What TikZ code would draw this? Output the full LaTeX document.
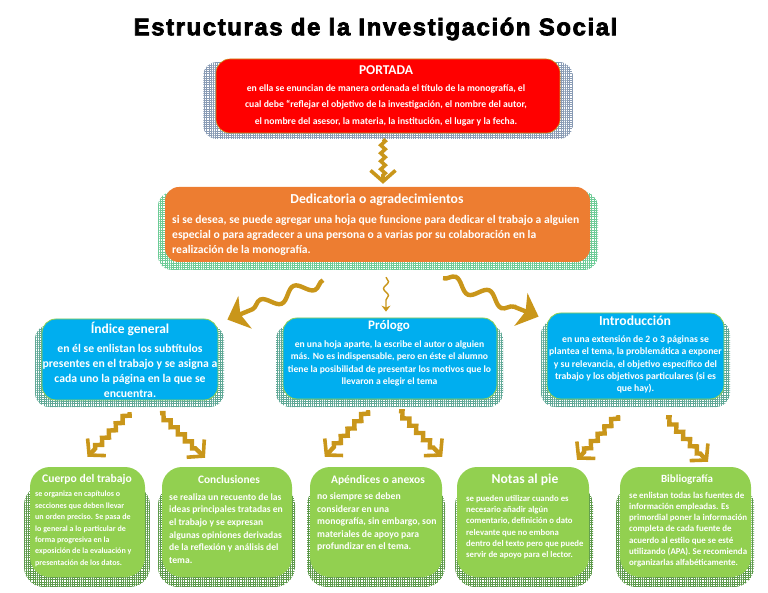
\documentclass[tikz,border=0pt]{standalone}
\usepackage{fontspec}
\setmainfont{Carlito}
\newfontfamily\titlefont[LetterSpace=6.5,BoldFeatures={FakeBold=3}]{Liberation Sans}
\usetikzlibrary{patterns,arrows.meta,decorations.pathmorphing}
\pgfdeclarepatternformonly{finegrid}{\pgfqpoint{-1pt}{-1pt}}{\pgfqpoint{1.2pt}{1.2pt}}{\pgfqpoint{2.2pt}{2.2pt}}{
  \pgfsetlinewidth{0.65pt}
  \pgfpathmoveto{\pgfqpoint{0pt}{-1pt}}\pgfpathlineto{\pgfqpoint{0pt}{1.2pt}}
  \pgfpathmoveto{\pgfqpoint{-1pt}{0pt}}\pgfpathlineto{\pgfqpoint{1.2pt}{0pt}}
  \pgfusepath{stroke}}
\definecolor{oro}{HTML}{C9961A}
\definecolor{naranja}{HTML}{ED7D31}
\definecolor{azul}{HTML}{00AEEF}
\definecolor{verde}{HTML}{92D050}
\definecolor{rojo}{HTML}{FF0000}
\definecolor{gridazul}{HTML}{8A9CB5}
\definecolor{gridclaro}{HTML}{6CCB96}
\definecolor{gridteal}{HTML}{5FA896}
\definecolor{gridoscuro}{HTML}{5E9A4C}
\tikzset{
  caja/.style={rectangle,rounded corners=14pt,inner sep=0pt},
  cajabaja/.style={caja,rounded corners=20pt,fill=verde},
  fondo/.style={caja,pattern=finegrid},
  fondobajo/.style={fondo,rounded corners=20pt,pattern color=gridoscuro},
  titulo/.style={text=white,font=\bfseries\fontsize{#1}{#1}\selectfont,inner sep=0pt},
  cuerpo/.style 2 args={text=white,font=\bfseries\fontsize{#1}{#2}\selectfont,inner sep=0pt},
  quebrada/.style={draw=oro,line width=4.4pt,decorate,
    decoration={zigzag,segment length=10pt,amplitude=2.5pt,post=lineto,post length=9pt},
    -{Straight Barb[length=11pt,width=25pt,line width=3.6pt]}},
  ondagrande/.style={draw=oro,line width=4.4pt,decorate,
    decoration={snake,segment length=36pt,amplitude=6pt,post=lineto,post length=20pt},
    -{Stealth[length=19pt,width=35pt,inset=5pt]}},
  ondachica/.style={draw=oro,line width=1.4pt,decorate,
    decoration={snake,segment length=14pt,amplitude=2.5pt,post=lineto,post length=6pt},
    -{Stealth[length=6pt,width=9pt]}}
}
\begin{document}
\begin{tikzpicture}[x=1pt,y=-1pt]
  \useasboundingbox (0,0) rectangle (768,593);

  \node[text=black,font=\titlefont\bfseries\fontsize{24}{24}\selectfont,inner sep=0pt] (principal) at (375.5,29) {Estructuras de la Investigación Social};

  \node[fondo,pattern color=gridazul,minimum width=370pt,minimum height=77pt] (portadafondo) at (388,100.5) {};
  \node[caja,fill=rojo,draw=oro,line width=0.6pt,minimum width=344pt,minimum height=74pt] (portada) at (388,96) {};
  \node[titulo=13.5] (portadatit) at (386,70) {PORTADA};
  \node[cuerpo={9.7}{16.5},align=center] (portadatxt) at (386,105) {en ella se enuncian de manera ordenada el título de la monografía, el\\
    cual debe ``reflejar el objetivo de la investigación, el nombre del autor,\\
    el nombre del  asesor, la materia, la institución, el lugar y la fecha.};

  \node[fondo,pattern color=gridclaro,minimum width=440pt,minimum height=78pt] (dedicatoriafondo) at (378,231) {};
  \node[caja,fill=naranja,minimum width=425pt,minimum height=75pt] (dedicatoria) at (377.5,224.5) {};
  \node[titulo=13.7] (dedicatoriatit) at (377,200) {Dedicatoria o agradecimientos};
  \node[cuerpo={11.6}{15},align=left,anchor=west] (dedicatoriatxt) at (172,235) {si se desea, se puede agregar una hoja que funcione para dedicar el trabajo a alguien\\
    especial o para agradecer a una persona o a varias por su colaboración en la\\
    realización de la monografía.};

  \node[fondo,pattern color=gridteal,minimum width=189pt,minimum height=82pt] (indicefondo) at (129.5,366) {};
  \node[caja,fill=azul,draw=verde,line width=0.8pt,minimum width=176pt,minimum height=81pt] (indice) at (130,359.5) {};
  \node[titulo=13.5] (indicetit) at (130,328.5) {Índice general};
  \node[cuerpo={11.7}{15},align=center] (indicetxt) at (130,370.5) {en él se enlistan los subtítulos\\
    presentes en el trabajo y se asigna a\\
    cada uno la página en la que se\\
    encuentra.};

  \node[fondo,pattern color=gridteal,minimum width=227pt,minimum height=82pt] (prologofondo) at (389.5,366) {};
  \node[caja,fill=azul,draw=verde,line width=0.8pt,minimum width=214pt,minimum height=81pt] (prologo) at (390,358.5) {};
  \node[titulo=13] (prologotit) at (389,326) {Prólogo};
  \node[cuerpo={9.6}{12.3},align=center] (prologotxt) at (389.5,363.5) {en una hoja aparte, la escribe el autor o alguien\\
    más. No es indispensable, pero en éste el alumno\\
    tiene la posibilidad de presentar los motivos que lo\\
    llevaron a elegir el tema};

  \node[fondo,pattern color=gridteal,minimum width=189pt,minimum height=87pt] (introduccionfondo) at (635.5,363.5) {};
  \node[caja,fill=azul,draw=verde,line width=0.8pt,minimum width=177pt,minimum height=86pt] (introduccion) at (635.5,356) {};
  \node[titulo=13.7] (introducciontit) at (635,321) {Introducción};
  \node[cuerpo={9.7}{12.2},align=center] (introducciontxt) at (635.5,364.5) {en una extensión de 2 o 3 páginas se\\
    plantea el tema, la problemática a exponer\\
    y su relevancia, el objetivo específico del\\
    trabajo y los objetivos particulares (si es\\
    que hay).};

  \node[fondobajo,minimum width=126pt,minimum height=102pt] (trabajofondo) at (87,536) {};
  \node[cajabaja,minimum width=115pt,minimum height=110pt] (trabajo) at (87.5,522) {};
  \node[titulo=11.6] (trabajotit) at (87,479) {Cuerpo del trabajo};
  \node[cuerpo={8}{11.4},align=left,anchor=west] (trabajotxt) at (35,529) {se organiza en capítulos o\\
    secciones que deben llevar\\
    un orden preciso. Se pasa de\\
    lo general a lo particular de\\
    forma progresiva en la\\
    exposición de la evaluación y\\
    presentación de los datos.};

  \node[fondobajo,minimum width=137pt,minimum height=102pt] (conclusionesfondo) at (226.5,536) {};
  \node[cajabaja,minimum width=130pt,minimum height=110pt] (conclusiones) at (227,522) {};
  \node[titulo=11.4] (conclusionestit) at (229,480) {Conclusiones};
  \node[cuerpo={9.6}{12.6},align=left,anchor=west] (conclusionestxt) at (169,528.5) {se realiza un recuento de las\\
    ideas principales tratadas en\\
    el trabajo y se expresan\\
    algunas opiniones  derivadas\\
    de la reflexión y análisis del\\
    tema.};

  \node[fondobajo,minimum width=138pt,minimum height=102pt] (apendicesfondo) at (376,536) {};
  \node[cajabaja,minimum width=132pt,minimum height=110pt] (apendices) at (376,522) {};
  \node[titulo=11.5] (apendicestit) at (378,480) {Apéndices o anexos};
  \node[cuerpo={9.7}{12.5},align=left,anchor=west] (apendicestxt) at (317,522) {no siempre se deben\\
    considerar  en una\\
    monografía,  sin embargo, son\\
    materiales de apoyo para\\
    profundizar  en el tema.};

  \node[fondobajo,minimum width=138pt,minimum height=102pt] (notasfondo) at (524,536) {};
  \node[cajabaja,minimum width=132pt,minimum height=110pt] (notas) at (523,522) {};
  \node[titulo=13.6] (notastit) at (525,480) {Notas al pie};
  \node[cuerpo={8.7}{11.3},align=left,anchor=west] (notastxt) at (466,527) {se pueden utilizar cuando es\\
    necesario añadir algún\\
    comentario, definición o dato\\
    relevante que no embona\\
    dentro del texto pero que puede\\
    servir de apoyo para el lector.};

  \node[fondobajo,minimum width=138pt,minimum height=102pt] (bibliografiafondo) at (685,536) {};
  \node[cajabaja,minimum width=131pt,minimum height=110pt] (bibliografia) at (685.5,522) {};
  \node[titulo=11] (bibliografiatit) at (687,480) {Bibliografía};
  \node[cuerpo={8.9}{11.2},align=left,anchor=west] (bibliografiatxt) at (629,529.5) {se enlistan todas las fuentes de\\
    información empleadas. Es\\
    primordial poner la información\\
    completa de cada fuente de\\
    acuerdo al estilo que se esté\\
    utilizando (APA).  Se recomienda\\
    organizarlas alfabéticamente.};

  \draw[quebrada,line width=3.6pt,decoration={segment length=8pt,amplitude=2.2pt,post length=7pt}] ([shift={(-5,0)}]portadafondo.south) -- ([shift={(5.5,-3)}]dedicatoria.north);
  \draw[ondagrande] ([shift={(-55,10)}]dedicatoriafondo.south) -- ([shift={(9,1)}]indice.north east);
  \draw[ondachica] ([shift={(8,7)}]dedicatoriafondo.south) -- ([shift={(-4,-6)}]prologo.north);
  \draw[ondagrande] ([shift={(65,8)}]dedicatoriafondo.south) -- ([shift={(-8,4)}]introduccion.north west);

  \draw[quebrada] ([shift={(0,5)}]indicefondo.south) -- ([shift={(0,-10)}]trabajo.north);
  \draw[quebrada] ([shift={(30.5,6)}]indicefondo.south) -- ([shift={(-22,-9)}]conclusiones.north);
  \draw[quebrada] ([shift={(-21.5,3)}]prologofondo.south) -- ([shift={(15,-10)}]apendices.north west);
  \draw[quebrada] ([shift={(9.5,4)}]prologofondo.south) -- ([shift={(0,-10)}]apendices.north east);
  \draw[quebrada] ([shift={(-17.5,8)}]introduccionfondo.south) -- ([shift={(54,-7)}]notas.north);
  \draw[quebrada] ([shift={(30.5,10)}]introduccionfondo.south) -- ([shift={(22.5,-5)}]bibliografia.north);
\end{tikzpicture}
\end{document}
